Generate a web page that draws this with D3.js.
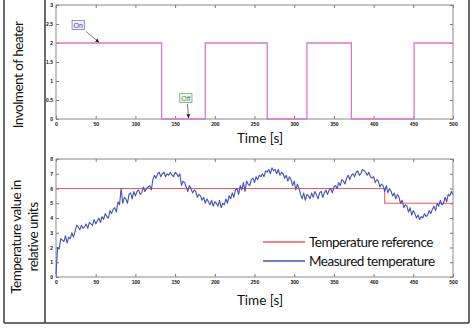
<!DOCTYPE html>
<html>
<head>
<meta charset="utf-8">
<script src="https://cdn.jsdelivr.net/npm/d3@7"></script>
<style>
  html, body { margin: 0; padding: 0; background: #fff; }
  svg { display: block; }
  .tick text { font-family: "Liberation Sans", Arial, sans-serif; font-size: 5px; font-weight: bold; fill: #111; }
  .tick line { stroke: #777; }
  .lab { font-family: Lato, "Open Sans", sans-serif; font-size: 13.5px; fill: #111; }
  .ylab { letter-spacing: -0.5px; }
</style>
</head>
<body>
<script>
// Time axis ticks shared by both panels
const timeTicks = [0, 50, 100, 150, 200, 250, 300, 350, 400, 450, 500];
const heaterTicks = [0, 0.5, 1, 1.5, 2, 2.5, 3];
const tempTicks = [0, 1, 2, 3, 4, 5, 6, 7, 8];

// Heater on/off switching (time in s, level held until next switch)
const heaterSwitchTimes = [0, 133, 188, 266, 316, 372, 451, 500];
const heaterLevels      = [2, 0, 2, 0, 2, 0, 2, 2];

// Temperature set-point
const refTimes  = [0, 414, 500];
const refValues = [6, 5, 5];

// Measured temperature, sampled every 2 s from t = 0 to 500
const measuredStep = 2;
const measuredValues = [
  0.2, 2.0, 1.9, 2.6, 2.5, 2.4, 2.8, 2.3, 2.7, 2.6,
  3.0, 2.7, 3.1, 3.5, 3.4, 3.2, 3.5, 3.3, 3.4, 3.6,
  3.3, 3.7, 3.6, 3.5, 3.9, 3.6, 3.8, 4.0, 3.7, 4.1,
  3.9, 4.3, 4.1, 4.0, 4.5, 4.3, 4.6, 4.7, 4.4, 5.1,
  4.9, 6.0, 5.0, 5.4, 5.3, 5.0, 5.6, 5.7, 5.3, 5.8,
  5.5, 5.8, 5.9, 5.6, 5.7, 6.1, 5.8, 6.0, 6.1, 6.2,
  5.9, 6.6, 6.9, 6.7, 7.0, 7.1, 6.8, 7.0, 7.1, 6.8,
  7.0, 6.9, 7.1, 6.9, 6.8, 7.1, 7.0, 6.8, 7.0, 6.2,
  6.5, 6.4, 6.1, 5.8, 6.2, 6.0, 5.7, 5.9, 5.8, 5.4,
  5.6, 5.5, 5.2, 5.4, 5.0, 5.3, 5.1, 4.9, 5.2, 4.8,
  5.1, 5.0, 4.8, 5.2, 4.7, 5.0, 4.9, 5.3, 5.0, 5.5,
  5.3, 5.7, 5.4, 5.9, 6.0, 5.6, 6.2, 5.9, 6.4, 5.8,
  6.5, 6.3, 6.2, 6.6, 6.7, 6.4, 6.8, 6.6, 6.9, 6.8,
  7.0, 6.8, 7.2, 7.1, 7.3, 7.0, 7.4, 7.2, 7.3, 7.0,
  7.3, 6.9, 7.1, 7.0, 6.7, 6.9, 6.5, 6.8, 6.6, 6.2,
  6.5, 5.9, 6.3, 6.0, 5.6, 5.3, 5.7, 5.2, 5.6, 5.5,
  5.3, 5.7, 5.4, 5.8, 5.6, 5.3, 5.7, 5.8, 5.4, 5.7,
  5.9, 5.6, 5.9, 6.0, 5.7, 6.1, 6.2, 6.0, 6.4, 6.2,
  6.6, 6.5, 6.3, 6.7, 6.9, 6.6, 6.9, 7.0, 6.8, 7.1,
  7.2, 6.9, 7.0, 7.3, 7.2, 7.1, 6.9, 7.1, 6.8, 6.7,
  6.8, 6.4, 6.6, 6.5, 6.1, 6.3, 6.2, 5.8, 6.2, 5.7,
  6.0, 5.8, 5.5, 5.7, 5.3, 5.6, 5.4, 5.0, 5.2, 4.7,
  4.9, 4.8, 4.4, 4.7, 4.2, 4.5, 4.3, 4.0, 4.2, 3.9,
  4.1, 4.0, 4.3, 4.1, 4.2, 4.5, 4.3, 4.6, 4.8, 4.5,
  5.0, 4.8, 5.2, 4.9, 5.0, 5.4, 5.1, 5.6, 5.5, 5.8,
  5.6
];

// Callout labels on the heater panel
const callouts = [
  { text: "On",  t: 28, v: 2.47, fromT: 38,  fromV: 2.3,  toT: 54,  toV: 2.02, color: "#3a3ab0", border: "#7a7ab8" },
  { text: "Off", t: 163.5, v: 0.55, fromT: 165.5, fromV: 0.4, toT: 167, toV: 0.03, color: "#2e9a2e", border: "#6ab06a" }
];

const W = 474, H = 335;
const svg = d3.select("body").append("svg").attr("width", W).attr("height", H);

const x = d3.scaleLinear().domain([0, 500]).range([56, 453]);
const yHeat = d3.scaleLinear().domain([0, 3]).range([119, 5]);
const yTemp = d3.scaleLinear().domain([0, 8]).range([277, 159]);

// Outer frame and the column divider for the panel titles
const frame = svg.append("g").attr("stroke", "#3a3a3a").attr("stroke-width", 1.5).attr("fill", "none");
frame.append("line").attr("x1", 4).attr("x2", 4).attr("y1", 0).attr("y2", 323);
frame.append("line").attr("x1", 45).attr("x2", 45).attr("y1", 0).attr("y2", 323);
frame.append("line").attr("x1", 469).attr("x2", 469).attr("y1", 0).attr("y2", 323);
frame.append("line").attr("x1", 4).attr("x2", 469).attr("y1", 323).attr("y2", 323);

function drawAxes(y, yTicks, fmt) {
  const g = svg.append("g");
  const [y0, y1] = y.range();
  g.append("g").attr("transform", `translate(0,${y0})`)
    .call(d3.axisBottom(x).tickValues(timeTicks).tickSizeInner(-3).tickSizeOuter(0).tickPadding(3).tickFormat(d3.format("d")))
    .call(s => s.select(".domain").remove());
  g.append("g").attr("transform", `translate(0,${y1})`)
    .call(d3.axisTop(x).tickValues(timeTicks).tickSizeInner(-3).tickSizeOuter(0).tickFormat(""))
    .call(s => s.select(".domain").remove());
  g.append("g").attr("transform", `translate(${x.range()[0]},0)`)
    .call(d3.axisLeft(y).tickValues(yTicks).tickSizeInner(-3).tickSizeOuter(0).tickPadding(3).tickFormat(fmt))
    .call(s => s.select(".domain").remove());
  g.append("g").attr("transform", `translate(${x.range()[1]},0)`)
    .call(d3.axisRight(y).tickValues(yTicks).tickSizeInner(-3).tickSizeOuter(0).tickFormat(""))
    .call(s => s.select(".domain").remove());
  g.append("rect")
    .attr("x", x.range()[0]).attr("y", y1)
    .attr("width", x.range()[1] - x.range()[0]).attr("height", y0 - y1)
    .attr("fill", "none").attr("stroke", "#8a8a8a").attr("stroke-width", 1);
  return g;
}

// ---- Heater panel ----
drawAxes(yHeat, heaterTicks, d => String(d));

const heaterData = heaterSwitchTimes.map((t, i) => ({ t, v: heaterLevels[i] }));
svg.append("path")
  .datum(heaterData)
  .attr("fill", "none").attr("stroke", "#d27ad2").attr("stroke-width", 1.3)
  .attr("d", d3.line().x(d => x(d.t)).y(d => yHeat(d.v)).curve(d3.curveStepAfter));

svg.append("defs").append("marker")
  .attr("id", "arrow").attr("viewBox", "0 0 10 10").attr("refX", 9).attr("refY", 5)
  .attr("markerWidth", 5).attr("markerHeight", 5).attr("orient", "auto")
  .append("path").attr("d", "M0,0 L10,5 L0,10 z").attr("fill", "#222");

callouts.forEach(c => {
  svg.append("line")
    .attr("x1", x(c.fromT)).attr("y1", yHeat(c.fromV))
    .attr("x2", x(c.toT)).attr("y2", yHeat(c.toV))
    .attr("stroke", "#555").attr("stroke-width", 0.8)
    .attr("marker-end", "url(#arrow)");
  const g = svg.append("g").attr("transform", `translate(${x(c.t)},${yHeat(c.v)})`);
  const t = g.append("text").attr("text-anchor", "middle").attr("dy", "0.35em")
    .attr("font-family", "Liberation Sans, Arial, sans-serif").attr("font-size", 7)
    .attr("fill", c.color).text(c.text);
  const bb = t.node().getBBox();
  g.insert("rect", "text")
    .attr("x", bb.x - 1.5).attr("y", bb.y - 1).attr("width", bb.width + 3).attr("height", bb.height + 2)
    .attr("fill", "#f2f2fa").attr("stroke", c.border).attr("stroke-width", 0.8);
});

svg.append("text").attr("class", "lab ylab")
  .attr("transform", `translate(${23},${75}) rotate(-90)`)
  .attr("text-anchor", "middle").text("Involment of heater");
svg.append("text").attr("class", "lab")
  .attr("x", 260).attr("y", 143).attr("text-anchor", "middle").text("Time [s]");

// ---- Temperature panel ----
drawAxes(yTemp, tempTicks, d => String(d));

const refData = refTimes.map((t, i) => ({ t, v: refValues[i] }));
svg.append("path")
  .datum(refData)
  .attr("fill", "none").attr("stroke", "#f2585c").attr("stroke-width", 1.1)
  .attr("d", d3.line().x(d => x(d.t)).y(d => yTemp(d.v)).curve(d3.curveStepAfter));

const measData = measuredValues.map((v, i) => ({ t: i * measuredStep, v }));
svg.append("path")
  .datum(measData)
  .attr("fill", "none").attr("stroke", "#4552ad").attr("stroke-width", 1.1)
  .attr("stroke-linejoin", "round")
  .attr("d", d3.line().x(d => x(d.t)).y(d => yTemp(d.v)));

// Legend
const legend = [
  { name: "Temperature reference", color: "#f2585c" },
  { name: "Measured temperature", color: "#4552ad" }
];
const lg = svg.append("g").attr("transform", "translate(263,242)");
legend.forEach((d, i) => {
  const row = lg.append("g").attr("transform", `translate(0,${i * 19})`);
  row.append("line").attr("x1", 0).attr("x2", 42).attr("stroke", d.color).attr("stroke-width", 1.6);
  row.append("text").attr("class", "lab ylab").attr("x", 46).attr("dy", "0.35em").text(d.name);
});

svg.append("text").attr("class", "lab ylab")
  .attr("transform", `translate(${21},${237}) rotate(-90)`)
  .attr("text-anchor", "middle").text("Temperature value in");
svg.append("text").attr("class", "lab ylab")
  .attr("transform", `translate(${38},${237}) rotate(-90)`)
  .attr("text-anchor", "middle").text("relative units");
svg.append("text").attr("class", "lab")
  .attr("x", 260).attr("y", 305).attr("text-anchor", "middle").text("Time [s]");
</script>
</body>
</html>
